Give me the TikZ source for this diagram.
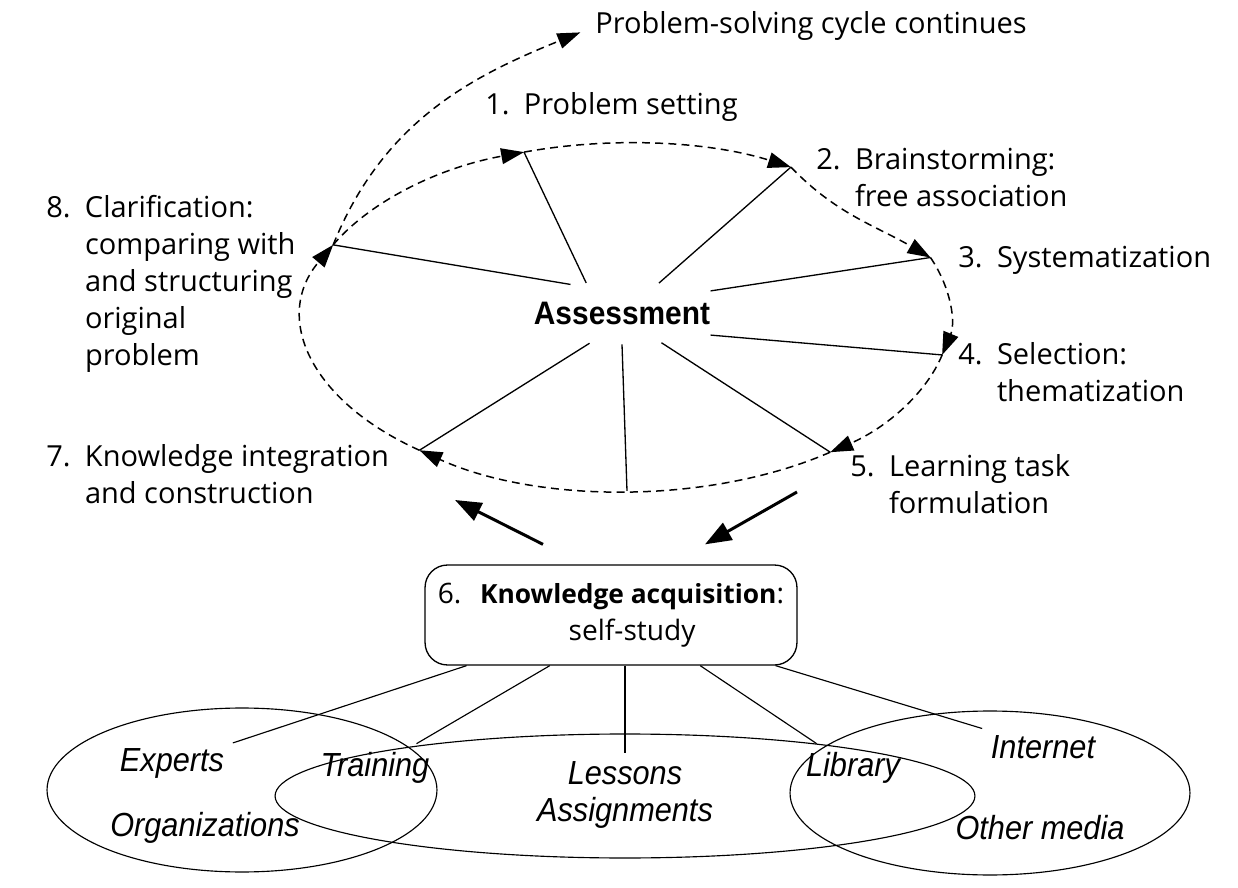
\documentclass[tikz,border=0pt]{standalone}
\usepackage{fontspec}
\setmainfont{Open Sans}
\newfontfamily\condfont[FakeStretch=0.92]{Liberation Sans}
\usetikzlibrary{arrows.meta,shapes.geometric,calc}

\tikzset{
	lab/.style={inner sep=0pt, font=\fontsize{16.5}{21}\selectfont},
	medium/.style={inner sep=2pt, outer sep=3pt, align=center, font=\condfont\itshape\fontsize{19}{21}\selectfont},
	cycline/.style={dash pattern=on 4.5pt off 3pt, line width=0.85pt},
	tip/.style={-{Triangle[length=13pt,width=9pt]}},
	spoke/.style={line width=0.75pt},
	bigarrow/.style={line width=1.7pt, -{Triangle[length=15pt,width=11pt]}},
	link/.style={line width=0.65pt},
	setring/.style={line width=0.65pt},
	kbox/.style={draw, line width=0.75pt, rounded corners=0.45cm, minimum width=7.44cm, minimum height=2cm, font=\fontsize{16}{21}\selectfont}
}
\newcommand{\steplab}[2]{\makebox[22pt][l]{#1}\begin{tabular}[t]{@{}l@{}}#2\end{tabular}}

\begin{document}
\begin{tikzpicture}[x=0.02cm, y=-0.02cm]
	\useasboundingbox (0,0) rectangle (1238,888);
	% the cycle
	\coordinate (cyc) at (627,317);
	\foreach \n/\a in {p1/108.6, p2/59.5, p3/20, p4/-12.6, p5/-51, pb/-90, p7/-130, p8/155.5}
		\coordinate (\n) at ([shift={(\a:6.46cm and 3.48cm)}]cyc);
	\draw[cycline,tip] (p8) arc[start angle=155.5, end angle=108.6, x radius=6.46cm, y radius=3.48cm];
	\draw[cycline,tip] (p1) arc[start angle=108.6, end angle=59.5, x radius=6.46cm, y radius=3.48cm];
	\draw[cycline,tip] (p2) to[out=-46, in=150] (p3);
	\draw[cycline,tip] (p3) arc[start angle=20, end angle=-12.6, x radius=6.46cm, y radius=3.48cm];
	\draw[cycline,tip] (p4) arc[start angle=-12.6, end angle=-51, x radius=6.46cm, y radius=3.48cm];
	\draw[cycline,tip] (p5) arc[start angle=-51, end angle=-130, x radius=6.46cm, y radius=3.48cm];
	\draw[cycline,tip] (p7) arc[start angle=-130, end angle=-204.5, x radius=6.46cm, y radius=3.48cm];

	\node[ellipse, minimum width=3.68cm, minimum height=1.24cm, inner sep=0pt,
		font=\condfont\bfseries\fontsize{18.5}{21}\selectfont] (assess) at (622,313) {Assessment};
	\foreach \a/\p in {140/p1, 39/p2, 14/p3, -14/p4, -37/p5, -90/pb, -137/p7, 151/p8}
		\draw[spoke] (assess.\a) -- (\p);

	% step labels
	\node[lab, anchor=base west] (contin) at (595,34) {Problem-solving cycle continues};
	\draw[cycline,tip,shorten >=9pt] (p8) to[out=68, in=202] (contin.west);
	\node[lab, anchor=base west] (s1) at (485,115) {\steplab{1.}{Problem setting}};
	\node[lab, anchor=base west] (s2) at (816,170) {\steplab{2.}{Brainstorming:\\free association}};
	\node[lab, anchor=base west] (s3) at (958,268) {\steplab{3.}{Systematization}};
	\node[lab, anchor=base west] (s4) at (958,365) {\steplab{4.}{Selection:\\thematization}};
	\node[lab, anchor=base west] (s5) at (850,477) {\steplab{5.}{Learning task\\formulation}};
	\node[lab, anchor=base west] (s7) at (46,467) {\steplab{7.}{Knowledge integration\\and construction}};
	\node[lab, anchor=base west] (s8) at (46,218) {\steplab{8.}{Clarification:\\comparing with\\and structuring\\original\\problem}};

	% self-study box
	\node[kbox] (know) at (611,615) {\makebox[24pt][l]{6.}\begin{tabular}[t]{@{}c@{}}{\fontsize{15}{21}\selectfont\bfseries Knowledge acquisition}:\\self-study\end{tabular}};
	\coordinate (k7) at (455,500);
	\coordinate (k5) at (797,492);
	\draw[bigarrow] ([xshift=-68*0.02cm, yshift=20*0.02cm]know.north) -- (k7);
	\draw[bigarrow] (k5) -- ([xshift=94*0.02cm, yshift=20*0.02cm]know.north);

	% sources
	\draw[setring] (242,790) ellipse [x radius=3.9cm, y radius=1.64cm];
	\draw[setring] (625,796) ellipse [x radius=7cm, y radius=1.24cm];
	\draw[setring] (990,793) ellipse [x radius=4cm, y radius=1.64cm];
	\node[medium] (experts) at (172,763) {Experts};
	\node[medium] (organ) at (205,828) {Organizations};
	\node[medium] (train) at (375,768) {Training};
	\node[medium] (lessons) at (625,795) {Lessons\\Assignments};
	\node[medium] (library) at (853,768) {Library};
	\node[medium] (internet) at (1043,747) {Internet};
	\node[medium] (media) at (1040,828) {Other media};
	\draw[link] ($(know.south west)!0.113!(know.south east)$) -- (experts);
	\draw[link] ($(know.south west)!0.336!(know.south east)$) -- (train);
	\draw[link] (lessons.north |- know.south) -- (lessons.north);
	\draw[link] ($(know.south west)!0.739!(know.south east)$) -- (library);
	\draw[link] ($(know.south west)!0.941!(know.south east)$) -- (internet);
\end{tikzpicture}
\end{document}
